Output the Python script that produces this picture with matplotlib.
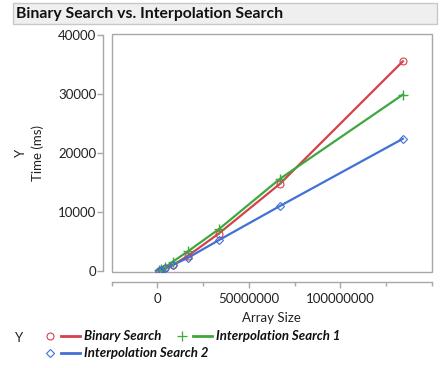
import numpy as np
import matplotlib.pyplot as plt
from matplotlib.patches import Rectangle
from matplotlib.lines import Line2D

plt.rcParams['font.family'] = ['Lato', 'DejaVu Sans']

# data
array_size = [1048576, 2097152, 4194304, 8388608, 16777216, 33554432, 67108864, 134217728]
binary = [150, 260, 520, 1060, 2650, 6400, 14840, 35530]
interp1 = [170, 330, 670, 1640, 3420, 7130, 15680, 29900]
interp2 = [120, 240, 500, 1100, 2310, 5280, 11080, 22430]

series_names = ['Binary Search', 'Interpolation Search 1', 'Interpolation Search 2']
colors = ['#d4414b', '#3ea83f', '#4170d6']
markers = ['o', '+', 'D']
x_ticks = [0, 50000000, 100000000]
y_ticks = [0, 10000, 20000, 30000, 40000]

W, H = 443, 368
fig = plt.figure(figsize=(W / 100, H / 100), dpi=100)

# title banner
fig.add_artist(Rectangle((13 / W, 1 - 24 / H), 424 / W, 21 / H, transform=fig.transFigure,
                         facecolor='#efefef', edgecolor='#c8c8c8', lw=1))
fig.text(16 / W, 1 - 14 / H, 'Binary Search vs. Interpolation Search', fontsize=11.3,
         fontweight='bold', va='center', ha='left', color='#111111')

ax = fig.add_axes([111.7 / W, 1 - 272.3 / H, 320 / W, 238.3 / H])

for xs, ys, c, m in zip([array_size] * 3, [binary, interp1, interp2], colors, markers):
    ax.plot(xs, ys, color=c, lw=1.6, zorder=3)
    if m == '+':
        ax.plot(xs, ys, ls='none', marker=m, ms=7, mew=1.0, color=c, zorder=4)
    else:
        ax.plot(xs, ys, ls='none', marker=m, ms=5 if m == 'o' else 4.5, mew=0.8,
                mfc='none', mec=c, zorder=4)

ax.set_xlim(-25000000, 150000000)
ax.set_ylim(-150, 40150)

# frame
ax.add_patch(Rectangle((0, 0), 1, 1, transform=ax.transAxes, fill=False,
                       edgecolor='#a8a8a8', lw=1, clip_on=False))
for s in ['top', 'right']:
    ax.spines[s].set_visible(False)
ax.spines['left'].set_position(('outward', 6))
ax.spines['bottom'].set_position(('outward', 7))
ax.spines['left'].set_bounds(0, 40000)
for s in ['left', 'bottom']:
    ax.spines[s].set_color('#a8a8a8')
    ax.spines[s].set_linewidth(1)

ax.set_xticks(x_ticks)
ax.set_xticks([-25000000, 25000000, 75000000, 125000000, 150000000], minor=True)
ax.set_yticks(y_ticks)
ax.xaxis.set_major_formatter(plt.FuncFormatter(lambda v, p: '%d' % v))
ax.tick_params(axis='both', which='major', length=4, width=1, color='#a8a8a8',
               labelsize=9.5, labelcolor='#222222', pad=1)
ax.tick_params(axis='x', which='minor', length=3, width=1, color='#a8a8a8')
ax.tick_params(axis='x', pad=4)

ax.set_xlabel('Array Size', fontsize=9.5, color='#222222', labelpad=5)
fig.text(21 / W, 1 - 153 / H, 'Y', rotation=90, fontsize=9.5, color='#222222',
         ha='center', va='center')
fig.text(38 / W, 1 - 153 / H, 'Time (ms)', rotation=90, fontsize=9.5, color='#222222',
         ha='center', va='center')

# legend
fig.text(19 / W, 1 - 338 / H, 'Y', fontsize=9.5, color='#222222', ha='center', va='center')
legend_pos = [(50, 336), (182, 336), (50, 353)]
for (px, py), name, c, m in zip(legend_pos, series_names, colors, markers):
    yy = 1 - py / H
    if m == '+':
        fig.add_artist(Line2D([px / W], [yy], ls='none', marker=m, ms=7, mew=0.9, color=c))
    else:
        fig.add_artist(Line2D([px / W], [yy], ls='none', marker=m, ms=5 if m == 'o' else 4.5,
                              mew=0.8, mfc='none', mec=c))
    fig.add_artist(Line2D([(px + 11) / W, (px + 30) / W], [yy, yy], color=c, lw=2))
    fig.text((px + 34) / W, yy, name, fontsize=9.5, fontweight='bold', fontstyle='italic',
             color='#111111', ha='left', va='center')

fig.savefig('out.png', dpi=100)
